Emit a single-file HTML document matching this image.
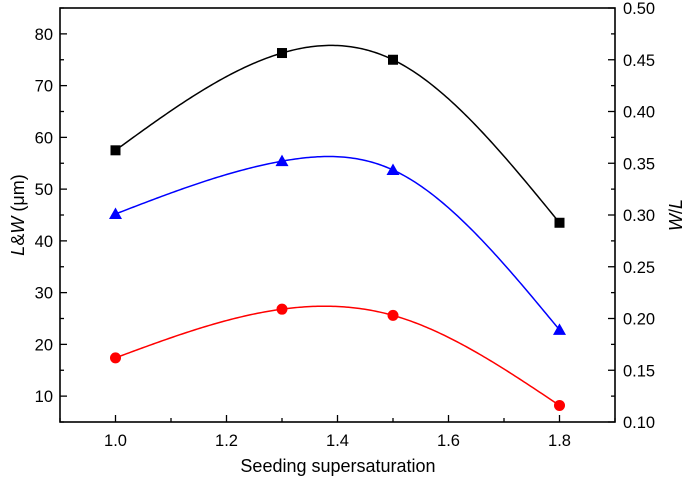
<!DOCTYPE html>
<html><head><meta charset="utf-8"><style>
body{margin:0;background:#fff;}
svg text{font-family:"Liberation Sans",Arial,sans-serif;fill:#000;}
</style></head><body>
<svg id="chart" width="685" height="478" xmlns="http://www.w3.org/2000/svg">
<rect x="60" y="8" width="555" height="414" fill="#fff" stroke="#000" stroke-width="1.6"/>
<g id="axes"></g>
<g id="series"></g>
<text x="338" y="472" font-size="18" text-anchor="middle">Seeding supersaturation</text>
<text transform="translate(24,215) rotate(-90)" font-size="18" text-anchor="middle"><tspan font-style="italic">L</tspan>&amp;<tspan font-style="italic">W</tspan> (μm)</text>
<text transform="translate(682,215) rotate(-90)" font-size="18" text-anchor="middle"><tspan font-style="italic">W</tspan>/<tspan font-style="italic">L</tspan></text>
</svg>
<script>
const xCats = [1.0, 1.3, 1.5, 1.8];
const lengthVals = [57.5, 76.3, 75.0, 43.5];
const widthVals = [45.2, 55.4, 53.7, 22.8];
const ratioVals = [0.162, 0.209, 0.203, 0.116];
const xTicks = [1.0, 1.2, 1.4, 1.6, 1.8];
const xTickLabels = ["1.0","1.2","1.4","1.6","1.8"];
const leftTicks = [10,20,30,40,50,60,70,80];
const rightTicks = [0.10,0.15,0.20,0.25,0.30,0.35,0.40,0.45,0.50];

const L=60,R=615,T=8,B=422;
const xs=v=>L+(v-0.9)/(1.9-0.9)*(R-L);
const yl=v=>B-(v-5)/(85-5)*(B-T);
const yr=v=>B-(v-0.1)/(0.5-0.1)*(B-T);
const NS="http://www.w3.org/2000/svg";
function mk(tag,attrs,parent){const e=document.createElementNS(NS,tag);for(const k in attrs)e.setAttribute(k,attrs[k]);parent.appendChild(e);return e;}
const ax=document.getElementById('axes');
for(let v=0.9;v<=1.901;v+=0.1){const major=Math.abs(Math.round(v*10)%2)===0;const x=xs(v);
 const t=mk('line',{x1:x,x2:x,y1:B,y2:B-(major?7:4),stroke:'#000','stroke-width':1.3},ax);
 
 }
xTicks.forEach((v,i)=>{const t=mk('text',{x:xs(v),y:B+24,'font-size':16.5,'text-anchor':'middle'},ax);t.textContent=xTickLabels[i];
 
 });
for(let v=5;v<=85;v+=5){const y=yl(v);const major=v%10===0;
 const t=mk('line',{x1:L,x2:L+(major?7:4),y1:y,y2:y,stroke:'#000','stroke-width':1.3},ax);
 
 }
leftTicks.forEach(v=>{const t=mk('text',{x:L-7,y:yl(v)+6,'font-size':16.5,'text-anchor':'end'},ax);t.textContent=v;
 
 });
for(let k=0;k<=16;k++){const v=0.1+k*0.025;const y=yr(v);const major=k%2===0;
 const t=mk('line',{x1:R,x2:R-(major?7:4),y1:y,y2:y,stroke:'#000','stroke-width':1.3},ax);
 
 }
rightTicks.forEach(v=>{const t=mk('text',{x:R+8,y:yr(v)+6,'font-size':16.5,'text-anchor':'start'},ax);t.textContent=v.toFixed(2);
 
 });

function spline(xv,yv){const n=xv.length,h=[],a=[],l=[1],mu=[0],z=[0],c=new Array(n).fill(0),b=[],d=[];
 for(let i=0;i<n-1;i++)h[i]=xv[i+1]-xv[i];
 for(let i=1;i<n-1;i++)a[i]=3/h[i]*(yv[i+1]-yv[i])-3/h[i-1]*(yv[i]-yv[i-1]);
 for(let i=1;i<n-1;i++){l[i]=2*(xv[i+1]-xv[i-1])-h[i-1]*mu[i-1];mu[i]=h[i]/l[i];z[i]=(a[i]-h[i-1]*z[i-1])/l[i];}
 for(let j=n-2;j>=0;j--){c[j]=z[j]-mu[j]*c[j+1];b[j]=(yv[j+1]-yv[j])/h[j]-h[j]*(c[j+1]+2*c[j])/3;d[j]=(c[j+1]-c[j])/(3*h[j]);}
 return x=>{let i=0;while(i<n-2&&x>xv[i+1])i++;const dx=x-xv[i];return yv[i]+b[i]*dx+c[i]*dx*dx+d[i]*dx*dx*dx;};}
const sg=document.getElementById('series');
function series(vals,ysc,color,marker,name){const f=spline(xCats,vals);let d='';
 for(let k=0;k<=200;k++){const x=xCats[0]+(xCats[xCats.length-1]-xCats[0])*k/200;d+=(k?'L':'M')+xs(x).toFixed(2)+','+ysc(f(x)).toFixed(2);}
 const p=mk('path',{d:d,fill:'none',stroke:color,'stroke-width':1.5},sg);
 
 
 vals.forEach((v,i)=>{const cx=xs(xCats[i]),cy=ysc(v);let m;
  if(marker==='square')m=mk('rect',{x:cx-5,y:cy-5,width:10,height:10,fill:color},sg);
  else if(marker==='tri')m=mk('polygon',{points:`${cx},${cy-6.5} ${cx+6.5},${cy+5} ${cx-6.5},${cy+5}`,fill:color},sg);
  else m=mk('circle',{cx:cx,cy:cy,r:5.5,fill:color},sg);
  
  });}
series(lengthVals,yl,'#000','square','length');
series(widthVals,yl,'#00f','tri','width');
series(ratioVals,yr,'#f00','circle','ratio');
</script>
</body></html>
